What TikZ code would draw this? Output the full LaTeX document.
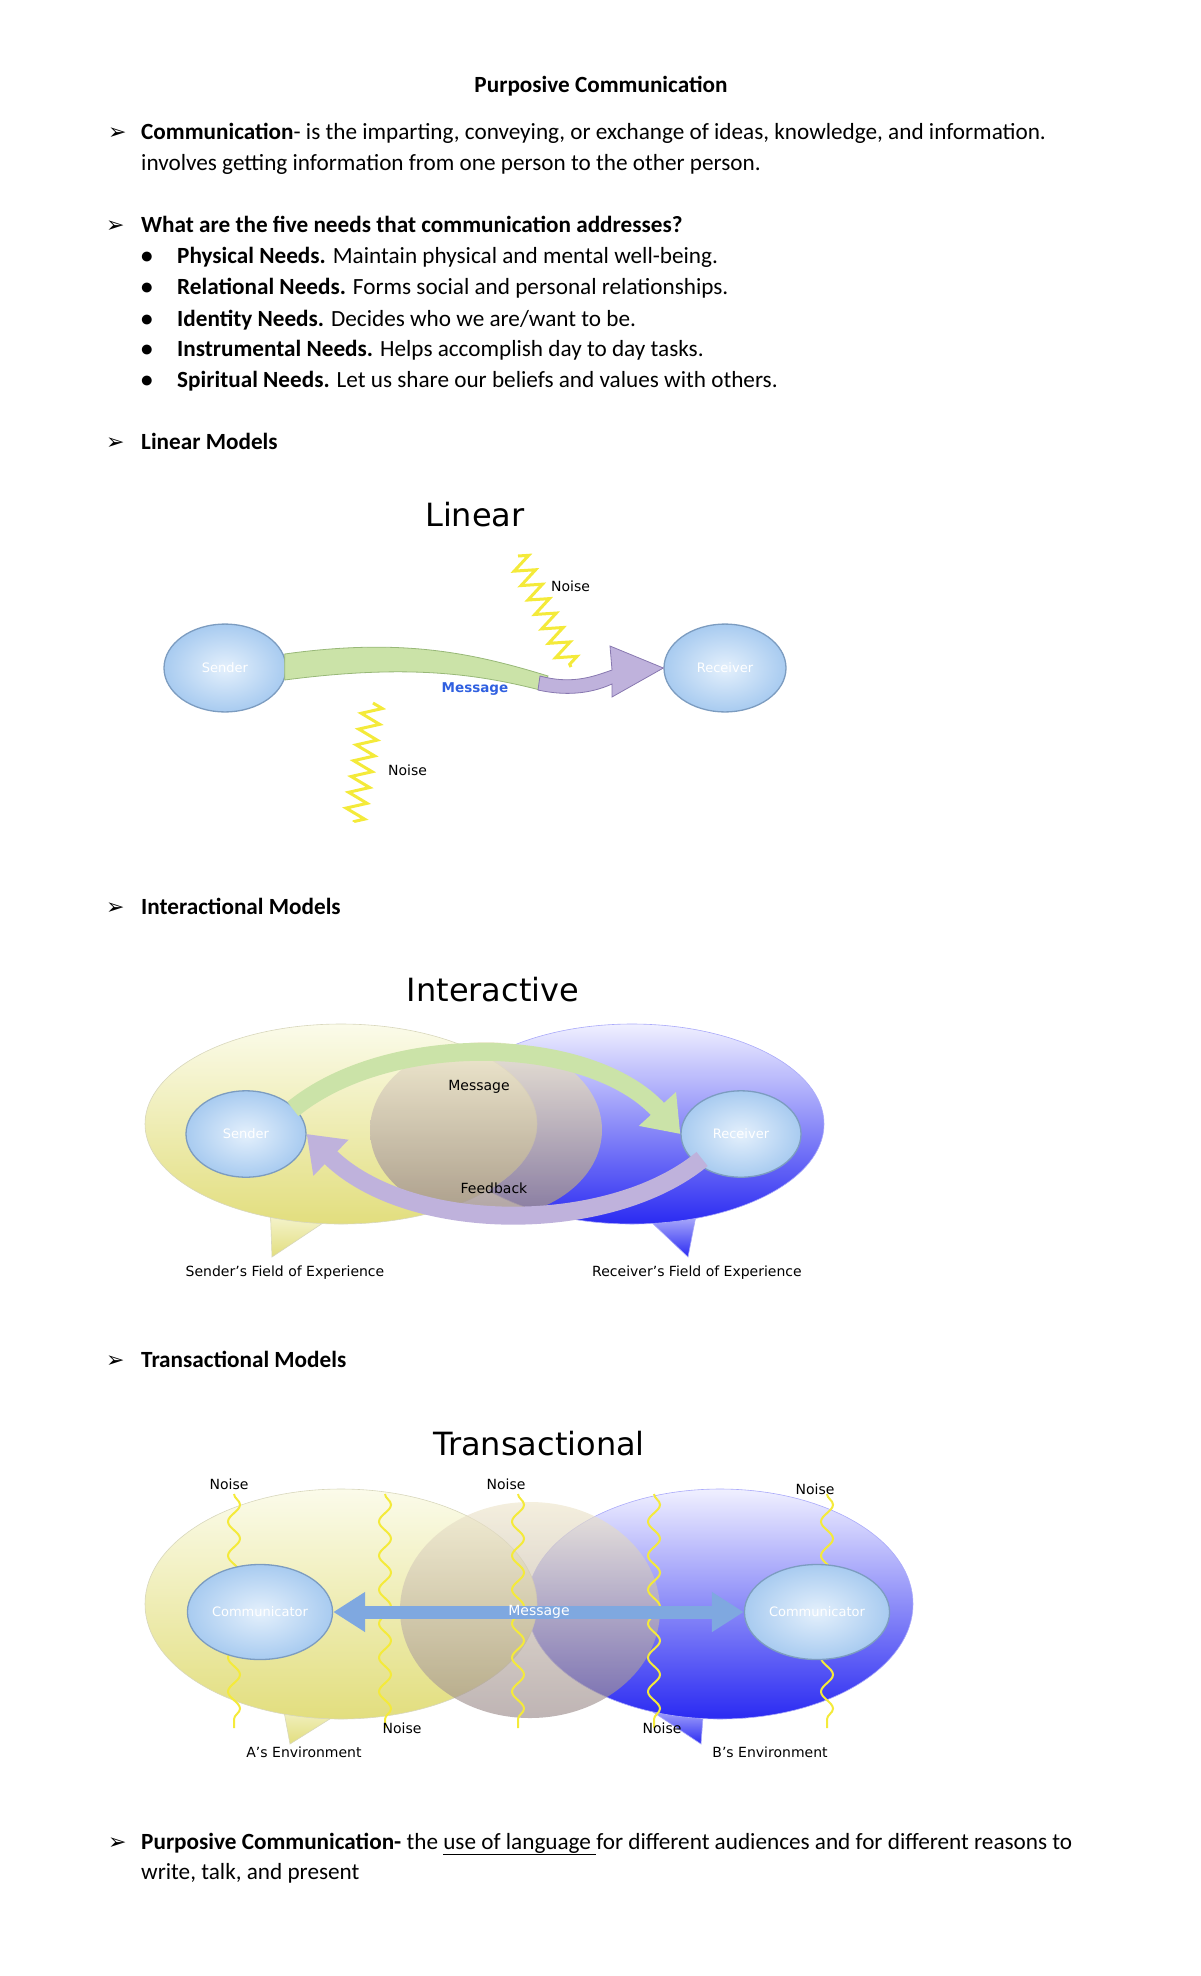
\documentclass[tikz,border=0pt]{standalone}
\usepackage{fontspec}
\setmainfont{Carlito}
\newfontfamily\dv{DejaVu Sans}
\usetikzlibrary{shapes.geometric,arrows.meta,decorations.pathmorphing,shadings,calc}
\definecolor{agentin}{HTML}{E4F0FC}
\definecolor{agentout}{HTML}{A8CBF0}
\definecolor{agentdraw}{HTML}{7C9CC0}
\definecolor{yelbot}{HTML}{E2DE7E}
\definecolor{yeltop}{HTML}{FBFBEA}
\definecolor{bluebot}{HTML}{2A2AF2}
\definecolor{bluetop}{HTML}{F0F0FF}
\definecolor{ovtop}{HTML}{EEE6CC}
\definecolor{ovbot}{HTML}{9C8C8C}
\definecolor{grn}{HTML}{CBE3A8}
\definecolor{grndraw}{HTML}{98B878}
\definecolor{pur}{HTML}{BFB2DC}
\definecolor{purdraw}{HTML}{8878B0}
\definecolor{noisey}{HTML}{F4EA3A}
\definecolor{msgblue}{HTML}{3060E0}
\definecolor{arrblue}{HTML}{7FA8E0}
\begin{document}
\begin{tikzpicture}[x=1pt,y=-1pt,
  body/.style={anchor=base west,font=\fontsize{23.2}{28}\selectfont,inner sep=0},
  bul/.style={anchor=base west,font=\dv\fontsize{22}{24}\selectfont,inner sep=0},
  lbl/.style={font=\dv\fontsize{14}{16}\selectfont,inner sep=0},
  ttl/.style={font=\dv\fontsize{32}{38}\selectfont,inner sep=0},
  agent/.style={ellipse,draw=agentdraw,line width=1.3,inner color=agentin,outer color=agentout,text=white,font=\dv\fontsize{13}{15}\selectfont,minimum width=#1,minimum height=0.72*#1},
  zig/.style={draw=noisey,line width=3,decorate,decoration={zigzag,segment length=16,amplitude=10}},
  wav/.style={draw=noisey,line width=2,decorate,decoration={snake,segment length=34,amplitude=6}},
  yfield/.style={top color=yeltop,bottom color=yelbot,draw=yelbot!70!black!40,line width=0.6},
  bfield/.style={top color=bluetop,bottom color=bluebot,draw=bluebot!40,line width=0.6},
  ovl/.style={top color=ovtop,bottom color=ovbot,draw=none,fill opacity=0.8}]
\useasboundingbox (0,0) rectangle (1200,1976);
% ---- text ----
\node[anchor=base,font=\bfseries\fontsize{23.2}{28}\selectfont] (title) at (601,92) {Purposive Communication};
\node[bul] (a1) at (108,139) {➢};
\node[body] (t1) at (141,139) {\textbf{Communication}- is the imparting, conveying, or exchange of ideas, knowledge, and information.};
\node[body] (t2) at (141,170) {involves getting information from one person to the other person.};
\node[bul] (a2) at (106,232) {➢};
\node[body] (t3) at (141,232) {\textbf{What are the five needs that communication addresses?}};
\foreach \y/\b/\r [count=\i] in {263/Physical Needs./Maintain physical and mental well-being.,
  294/Relational Needs./Forms social and personal relationships.,
  326/Identity Needs./{Decides who we are/want to be.},
  356/Instrumental Needs./Helps accomplish day to day tasks.,
  387/Spiritual Needs./Let us share our beliefs and values with others.}{
  \node[body] (d\i) at (141,\y) {\textbf{•}};
  \node[body] (n\i) at (177,\y) {\textbf{\b} \r};
}
\node[bul] (a3) at (106,449) {➢};
\node[body] (t4) at (141,449) {\textbf{Linear Models}};
\node[bul] (a4) at (106,914) {➢};
\node[body] (t5) at (141,914) {\textbf{Interactional Models}};
\node[bul] (a5) at (106,1367) {➢};
\node[body] (t6) at (141,1367) {\textbf{Transactional Models}};
\node[bul] (a6) at (108,1849) {➢};
\node[body] (t7) at (141,1849) {\textbf{Purposive Communication-} the \underline{use of language\ }for different audiences and for different reasons to};
\node[body] (t8) at (141,1879) {write, talk, and present};
% ---- Linear ----
\node[ttl] (lt) at (475,515) {Linear};
\node[agent=122] (ls) at (225,668) {Sender};
\node[agent=122] (lr) at (725,668) {Receiver};
\path[fill=grn,draw=grndraw,line width=0.8] ($(ls.east)+(-2,-14)$) .. controls (400,638) and (470,652) .. (548,676)
  -- (540,690) .. controls (470,672) and (400,665) .. ($(ls.east)+(-2,12)$) -- cycle;
\path[fill=pur,draw=purdraw,line width=0.8] (540,676) .. controls (570,684) and (590,678) .. (612,670) -- (610,646) -- (lr.west) -- (612,697)
  -- (612,684) .. controls (590,694) and (565,696) .. (538,690) -- cycle;
\node[font=\dv\bfseries\fontsize{13.5}{15}\selectfont,text=msgblue] (lm) at (475,689) {Message};
\coordinate (nz1a) at (518,556); \coordinate (nz1b) at (571,667);
\draw[zig] (nz1a) -- (nz1b);
\node[lbl,anchor=west] (ln1) at (551,586) {Noise};
\coordinate (nz2a) at (373,703); \coordinate (nz2b) at (354,822);
\draw[zig] (nz2a) -- (nz2b);
\node[lbl,anchor=west] (ln2) at (388,770) {Noise};
% ---- Interactive ----
\node[ttl] (it) at (493,990) {Interactive};
\path[bfield] (628,1200) -- (688,1257) -- (700,1195) -- cycle;
\path[bfield] (632,1124) ellipse (192 and 100);
\path[yfield] (270,1200) -- (272,1257) -- (350,1205) -- cycle;
\path[yfield] (341,1124) ellipse (196 and 100);
\path[ovl] (486,1130) ellipse (116 and 88);
\node[agent=120] (is) at (246,1134) {Sender};
\node[agent=120] (ir) at (741,1134) {Receiver};
\draw[grn,line width=18,-{Triangle[length=34,width=48]}] ($(is.north east)+(4,6)$) .. controls (390,1030) and (590,1035) .. (ir.west);
\draw[pur,line width=18,-{Triangle[length=34,width=48]}] ($(ir.south west)+(4,-6)$) .. controls (610,1235) and (410,1235) .. (is.east);
\node[lbl] (im) at (479,1087) {Message};
\node[lbl] (if) at (494,1188) {Feedback};
\node[lbl] (isf) at (285,1273) {Sender’s Field of Experience};
\node[lbl] (irf) at (697,1273) {Receiver’s Field of Experience};
% ---- Transactional ----
\node[ttl] (tt) at (539,1444) {Transactional};
\path[bfield] (620,1690) -- (701,1744) -- (705,1690) -- cycle;
\path[bfield] (720,1604) ellipse (193 and 115);
\path[yfield] (280,1690) -- (290,1744) -- (360,1700) -- cycle;
\path[yfield] (341,1604) ellipse (196 and 115);
\path[ovl,fill opacity=0.65] (530,1610) ellipse (130 and 108);
\foreach \x [count=\i] in {234,385,518,654,827}{
  \coordinate (wa\i) at (\x,1494); \coordinate (wb\i) at (\x,1728);
  \draw[wav] (wa\i) -- (wb\i);
}
\node[agent=132] (ca) at (260,1612) {Communicator};
\node[agent=132] (cb) at (817,1612) {Communicator};
\draw[arrblue,line width=13,{Triangle[length=32,width=38]}-{Triangle[length=32,width=38]}] (ca.east) -- (cb.west);
\node[lbl,text=white] (tm) at (539,1612) {Message};
\node[lbl] (tn1) at (229,1484) {Noise};
\node[lbl] (tn2) at (506,1484) {Noise};
\node[lbl] (tn3) at (815,1489) {Noise};
\node[lbl] (tn4) at (402,1728) {Noise};
\node[lbl] (tn5) at (662,1728) {Noise};
\node[lbl] (tea) at (304,1752) {A’s Environment};
\node[lbl] (teb) at (770,1752) {B’s Environment};
\end{tikzpicture}
\end{document}
